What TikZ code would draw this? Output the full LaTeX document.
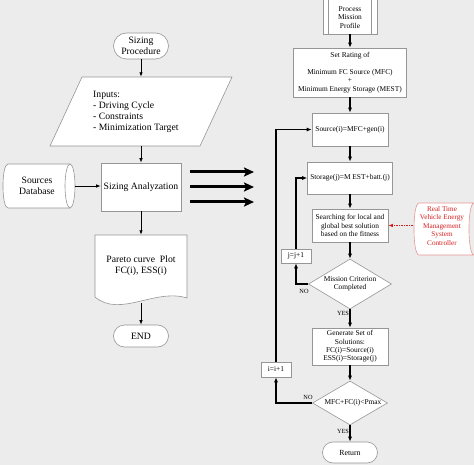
\documentclass[tikz,border=0pt]{standalone}
\usepackage{fontspec}
\setmainfont{Liberation Serif}
\usetikzlibrary{arrows.meta,shapes.geometric}
\definecolor{bg}{RGB}{236,236,236}
\definecolor{bd}{RGB}{150,150,150}
\definecolor{rt}{RGB}{212,30,30}
\definecolor{rtb}{RGB}{232,150,150}
\begin{document}
\begin{tikzpicture}[x=1pt,y=-1pt,
 box/.style={draw=bd, fill=white, line width=0.6pt, inner sep=0pt, align=center},
 ghost/.style={inner sep=0pt},
 rfont/.style={font=\fontsize{7.4}{8.3}\selectfont},
 lfont/.style={font=\fontsize{9.7}{11}\selectfont},
 arr/.style={-{Latex[length=5pt,width=4pt]}, line width=1.2pt},
 larr/.style={-{Latex[length=4.5pt,width=3.5pt]}, line width=0.8pt},
 bigarr/.style={-{Stealth[length=10pt,width=9pt,inset=2pt]}, line width=3pt},
 lab/.style={font=\fontsize{6.3}{7}\selectfont, inner sep=0pt},
 rarr/.style={-{Latex[length=4.5pt,width=3.5pt]}, draw=rt, line width=0.8pt, dash pattern=on 1.5pt off 1pt},
]
\fill[bg] (0,0) rectangle (474,465);
\useasboundingbox (0,0) rectangle (474,465);

% ---------------- left column ----------------
\node[box, lfont, rounded corners=13pt, minimum width=55, minimum height=26] (sp) at (141,46) {Sizing\\Procedure};

\node[ghost, minimum width=150, minimum height=69] (inp) at (141,111.5) {};
\draw[draw=bd, fill=white, line width=0.6pt] (82,77) -- (232,77) -- (200,146) -- (50,146) -- cycle;
\node[lfont, align=left, anchor=west, inner sep=0pt] (inpt) at (93,112) {Inputs:\\- Driving Cycle\\- Constraints\\- Minimization Target};

\node[box, lfont, minimum width=80, minimum height=48] (sa) at (141,187) {Sizing Analyzation};

\node[ghost, minimum width=72, minimum height=44] (db) at (39,186) {};
\draw[draw=bd, fill=white, line width=0.6pt] (8,164) -- (70,164) -- (70,208) -- (8,208) .. controls (1.3,208) and (1.3,164) .. (8,164) -- cycle;
\draw[draw=bd, fill=white, line width=0.6pt] (70,186) ellipse [x radius=5, y radius=22];
\node[lfont, align=center] at (37,186) {Sources\\Database};

\node[ghost, minimum width=92, minimum height=62] (par) at (141,266) {};
\draw[draw=bd, fill=white, line width=0.6pt] (95,235) -- (187,235) -- (187,298) .. controls (155,288) and (120,318) .. (95,297) -- cycle;
\node[lfont, align=center] at (141,266) {Pareto curve~ Plot\\FC(i), ESS(i)};
\coordinate (parb) at (141,303);

\node[box, lfont, rounded corners=11pt, minimum width=55, minimum height=22] (end) at (141,336) {END};

\draw[larr] (sp.south) -- (inp.north);
\draw[larr] (inp.south) -- (sa.north);
\draw[larr] (db.east) -- (sa.west |- db.east);
\draw[larr] (sa.south) -- (par.north);
\draw[larr] (parb) -- (end.north);

% big arrows
\foreach \n/\yy in {a/172,b/187,c/202}{
  \coordinate (ba\n) at (190,\yy);
  \coordinate (be\n) at (254,\yy);
  \draw[bigarr] (ba\n) -- (be\n);
}

% ---------------- right column ----------------
\node[box, minimum width=54, minimum height=38] (pmp) at (350,15) {};
\draw[draw=bd, line width=0.6pt] ([xshift=6pt]pmp.north west) -- ([xshift=6pt]pmp.south west);
\draw[draw=bd, line width=0.6pt] ([xshift=-6pt]pmp.north east) -- ([xshift=-6pt]pmp.south east);
\node[rfont, align=center] at (350,17.5) {Process\\Mission\\Profile};

\node[box, rfont, minimum width=113, minimum height=49] (sr) at (350,72.5) {Set Rating of\\[8.7pt]Minimum FC Source (MFC)\\+\\Minimum Energy Storage (MEST)};

\node[box, rfont, minimum width=76, minimum height=33] (src) at (350,129.5) {Source(i)=MFC+gen(i)};
\node[box, rfont, minimum width=85, minimum height=32] (sto) at (350,178) {Storage(j)=M EST+batt.(j)};
\node[box, rfont, minimum width=76, minimum height=33] (srch) at (350,225.5) {Searching for local and\\global best solution\\based on the fitness};

\node[diamond, draw=bd, fill=white, line width=0.6pt, minimum width=83, minimum height=50, inner sep=0pt] (mc) at (350,284) {};
\node[rfont, align=center] at (mc) {Mission Criterion\\Completed};

\node[box, rfont, minimum width=30, minimum height=14] (jb) at (296,256) {j=j+1};

\node[box, rfont, minimum width=76, minimum height=37] (gen) at (350,346.5) {Generate Set of\\Solutions:\\FC(i)=Source(i)\\ESS(i)=Storage(j)};

\node[diamond, draw=bd, fill=white, line width=0.6pt, minimum width=75, minimum height=44, inner sep=0pt] (md) at (350,403) {};
\node[rfont] at (353,403) {MFC+FC(i)<Pmax};

\node[box, rfont, minimum width=30, minimum height=15] (ib) at (276,369.5) {i=i+1};

\node[box, font=\fontsize{7.8}{9}\selectfont, rounded corners=10.5pt, minimum width=55, minimum height=21] (ret) at (350,452.5) {Return};

% real time controller
\node[ghost, minimum width=60, minimum height=52] (rtc) at (443,229) {};
\draw[draw=rtb, fill=white, line width=0.6pt] (419,203) -- (474,203) .. controls (467.3,203) and (467.3,255) .. (474,255) -- (419,255) .. controls (412.3,255) and (412.3,203) .. (419,203) -- cycle;
\node[font=\fontsize{7.2}{8.5}\selectfont, text=rt, align=center] at (442,226) {Real Time\\Vehicle Energy\\Management\\System\\Controller};

% connectors
\draw[arr] (pmp.south) -- (sr.north);
\draw[arr] (sr.south) -- (src.north);
\draw[arr] (src.south) -- (sto.north);
\draw[arr] (sto.south) -- (srch.north);
\draw[arr] (srch.south) -- (mc.north);
\draw[arr] (mc.south) -- (gen.north);
\draw[arr] (gen.south) -- (md.north);
\draw[arr] (md.south) -- (ret.north);
\draw[arr] (mc.west) -| (jb.south);
\draw[arr] (jb.north) |- (sto.west);
\draw[arr] (md.west) -| (ib.south);
\draw[arr] (ib.north) |- (src.west);
\draw[rarr] (rtc.west |- srch.east) -- (srch.east);

\node[lab] at (304,291) {NO};
\node[lab] at (343,313) {YES};
\node[lab] at (308,397) {NO};
\node[lab] at (343,431) {YES};
\end{tikzpicture}
\end{document}
